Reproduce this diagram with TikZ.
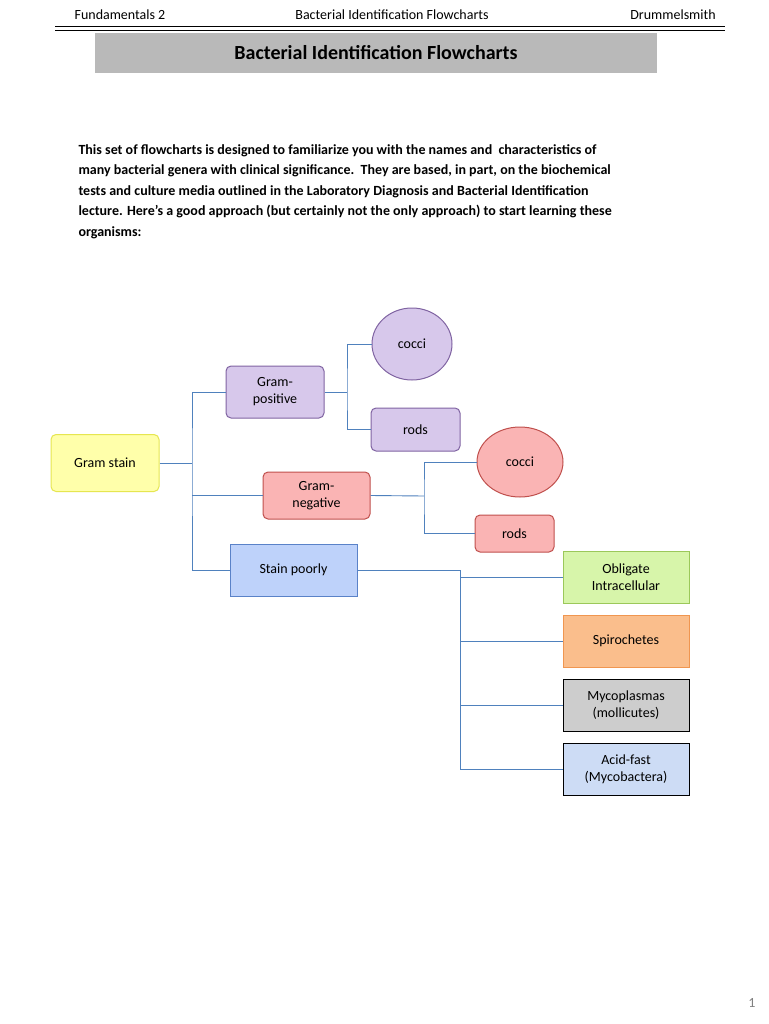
\documentclass[tikz,border=0pt]{standalone}
\usepackage{fontspec}
\setmainfont{Carlito}
\usetikzlibrary{shapes.geometric}
\definecolor{linkblue}{RGB}{79,129,189}
\definecolor{yelfill}{RGB}{255,255,170}
\definecolor{yeldraw}{RGB}{230,230,80}
\definecolor{purfill}{RGB}{215,200,235}
\definecolor{purdraw}{RGB}{128,100,162}
\definecolor{redfill}{RGB}{250,180,180}
\definecolor{reddraw}{RGB}{192,80,77}
\definecolor{bluefill}{RGB}{190,210,250}
\definecolor{bluedraw}{RGB}{90,130,200}
\definecolor{grnfill}{RGB}{215,245,170}
\definecolor{grndraw}{RGB}{155,200,90}
\definecolor{orgfill}{RGB}{250,190,140}
\definecolor{orgdraw}{RGB}{240,150,80}
\definecolor{gryfill}{RGB}{205,205,205}
\definecolor{acidfill}{RGB}{205,220,245}

\tikzset{
	box/.style={draw, line width=1pt, rounded corners=5pt, align=center, font=\fontsize{14}{17}\selectfont, inner sep=0pt},
	oval/.style={draw, line width=1pt, ellipse, align=center, font=\fontsize{14}{17}\selectfont, inner sep=0pt},
	link/.style={linkblue, line width=0.9pt}
}

\begin{document}
\begin{tikzpicture}[x=1pt, y=-1pt]
	\useasboundingbox (0,0) rectangle (768,1024);
	\fill[white] (0,0) rectangle (768,1024);
	
	% header
	\node (hleft) at (120,15) {\fontsize{14}{17}\selectfont Fundamentals 2};
	\node (hmid) at (392,15) {\fontsize{14}{17}\selectfont Bacterial Identification Flowcharts};
	\node (hright) at (673,15) {\fontsize{14}{17}\selectfont Drummelsmith};
	\draw[line width=1pt] (55,27) -- (725,27);
	\draw[line width=0.6pt] (55,30) -- (725,30);
	
	\fill[gray!55] (95,33) rectangle (657,73);
	\node (title) at (376,53) {\fontsize{20}{24}\selectfont\bfseries Bacterial Identification Flowcharts};
	
	\node[anchor=north west, align=left, font=\fontsize{14}{20.5}\selectfont\bfseries] (intro) at (75,141) {This set of flowcharts is designed to familiarize you with the names and\ \ characteristics of\\many bacterial genera with clinical significance.\ \ They are based, in part, on the biochemical\\tests and culture media outlined in the Laboratory Diagnosis and Bacterial Identification\\lecture. Here’s a good approach (but certainly not the only approach) to start learning these\\organisms:};
	
	% nodes
	\node[box, draw=yeldraw, fill=yelfill, minimum width=108pt, minimum height=57pt] (gram) at (105,463) {Gram stain};
	\node[box, draw=purdraw, fill=purfill, minimum width=98pt, minimum height=52pt] (gpos) at (275,392) {Gram-\\positive};
	\node[oval, draw=purdraw, fill=purfill, minimum width=80pt, minimum height=72pt] (pcocci) at (412,344) {cocci};
	\node[box, draw=purdraw, fill=purfill, minimum width=89pt, minimum height=43pt] (prods) at (415.5,429.5) {rods};
	\node[box, draw=reddraw, fill=redfill, minimum width=107pt, minimum height=47pt] (gneg) at (316.5,495.5) {Gram-\\negative};
	\node[oval, draw=reddraw, fill=redfill, minimum width=86pt, minimum height=70pt] (ncocci) at (520,462) {cocci};
	\node[box, draw=reddraw, fill=redfill, minimum width=79pt, minimum height=37pt] (nrods) at (514.5,533.5) {rods};
	\node[box, rounded corners=0pt, draw=bluedraw, fill=bluefill, minimum width=127pt, minimum height=52pt] (poor) at (293.5,570) {Stain poorly};
	\node[box, rounded corners=0pt, draw=grndraw, fill=grnfill, minimum width=126pt, minimum height=52pt] (oblig) at (626,577) {Obligate\\Intracellular};
	\node[box, rounded corners=0pt, draw=orgdraw, fill=orgfill, minimum width=126pt, minimum height=52pt] (spiro) at (626,641) {Spirochetes};
	\node[box, rounded corners=0pt, draw=black, fill=gryfill, minimum width=126pt, minimum height=52pt] (myco) at (626,705) {Mycoplasmas\\(mollicutes)};
	\node[box, rounded corners=0pt, draw=black, fill=acidfill, minimum width=126pt, minimum height=52pt] (acid) at (626,769) {Acid-fast\\(Mycobactera)};
	
	% connectors
	\coordinate (j1) at (192,463);
	\coordinate (j2) at (347,392);
	\coordinate (j3) at (424,496);
	\coordinate (j4) at (460,577);
	\draw[link] (gram.east) -- (j1);
	\draw[link] (gpos.west) -| (j1) |- (poor.west);
	\draw[link] (j1 |- gneg.west) -- (gneg.west);
	\draw[link] (gpos.east) -- (j2);
	\draw[link] (pcocci.west) -| (j2) |- (prods.west);
	\draw[link] (gneg.east) -- (j3);
	\draw[link] (ncocci.west) -| (j3) |- (nrods.west);
	\draw[link] (poor.east) -| (j4) -- (oblig.west);
	\draw[link] (j4) |- (acid.west);
	\draw[link] (j4 |- spiro.west) -- (spiro.west);
	\draw[link] (j4 |- myco.west) -- (myco.west);
	
	\node[gray] (pagenum) at (752,1003) {\fontsize{14}{17}\selectfont 1};
\end{tikzpicture}
\end{document}
